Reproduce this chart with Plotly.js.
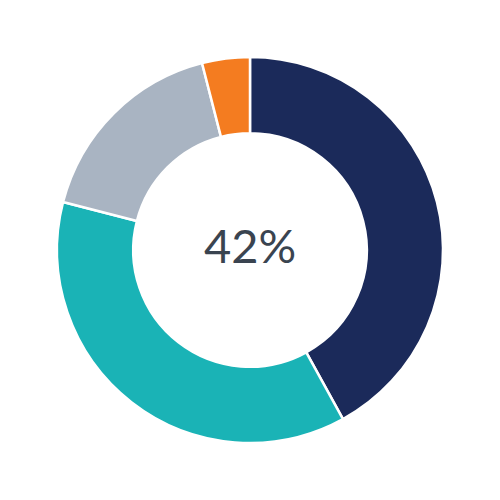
<!DOCTYPE html>
<html>
<head>
<meta charset="utf-8">
<script src="https://cdn.plot.ly/plotly-3.0.1.min.js"></script>
<style>
  html, body { margin: 0; padding: 0; background: #ffffff; }
  #chart { width: 500px; height: 500px; }
</style>
</head>
<body>
<div id="chart"></div>
<script>
// slice values in percent, clockwise from 12 o'clock
var labels = ['A', 'B', 'C', 'D'];
var values = [42, 37, 17, 4];
var colors = ['#1b2a5a', '#1ab3b6', '#a9b4c2', '#f47c20'];
var centerText = '42%';

var trace = {
  type: 'pie',
  labels: labels,
  values: values,
  hole: 0.605,
  sort: false,
  direction: 'clockwise',
  rotation: 0,
  textinfo: 'none',
  hoverinfo: 'none',
  marker: {
    colors: colors,
    line: { color: '#ffffff', width: 2.5 }
  }
};

var layout = {
  width: 500,
  height: 500,
  margin: { l: 57, r: 57, t: 57, b: 57 },
  showlegend: false,
  paper_bgcolor: '#ffffff',
  plot_bgcolor: '#ffffff',
  annotations: [{
    text: centerText,
    x: 0.5,
    y: 0.5,
    xref: 'paper',
    yref: 'paper',
    yshift: 5,
    showarrow: false,
    font: { family: 'Lato, "Open Sans", sans-serif', size: 47, color: '#3a4450' }
  }]
};

Plotly.newPlot('chart', [trace], layout, { staticPlot: true, displayModeBar: false });
</script>
</body>
</html>
